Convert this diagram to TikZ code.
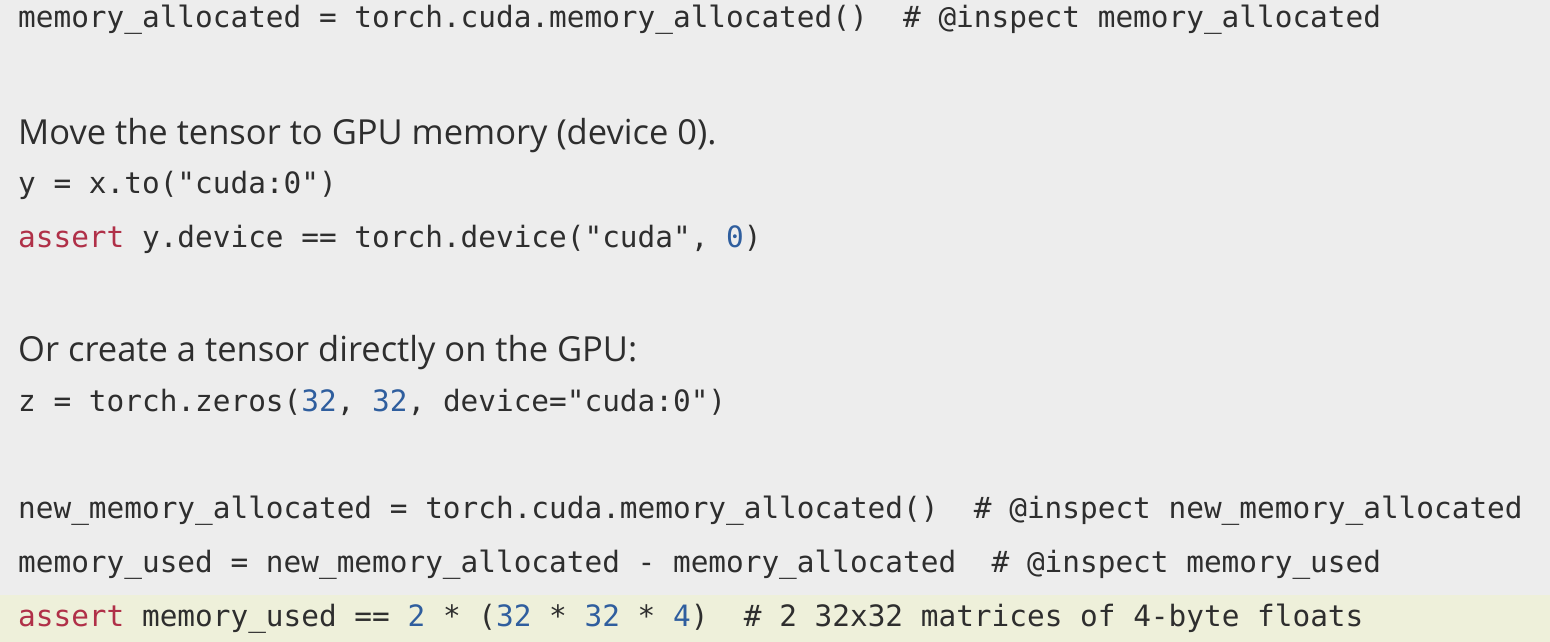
\documentclass[tikz,border=0pt]{standalone}
\usepackage{fontspec}
\setmainfont{Open Sans}
\setmonofont{DejaVu Sans Mono}
\definecolor{bg}{HTML}{EDEDED}
\definecolor{hl}{HTML}{EEF0DA}
\definecolor{txt}{HTML}{2E2E2E}
\definecolor{kw}{HTML}{B03048}
\definecolor{num}{HTML}{2F5E9E}
\newcommand{\kwd}[1]{{\color{kw}#1}}
\newcommand{\nm}[1]{{\color{num}#1}}
\tikzset{code/.style={anchor=base west,inner sep=0pt,text=txt,font=\ttfamily\fontsize{29.4}{35}\selectfont},
prose/.style={anchor=base west,inner sep=0pt,text=txt,font=\fontsize{34.5}{40}\selectfont}}
\begin{document}
\begin{tikzpicture}[x=1pt,y=-1pt]
\fill[bg] (0,0) rectangle (1550,642);
\fill[hl] (0,595) rectangle (1550,642);
\useasboundingbox (0,0) rectangle (1550,642);
\node[code] (l1) at (18,28) {memory\_allocated = torch.cuda.memory\_allocated()\ \ \# @inspect memory\_allocated};
\node[prose] (p1) at (18,144) {Move the tensor to GPU memory (device 0).};
\node[code] (l2) at (18,193) {y = x.to("cuda:0")};
\node[code] (l3) at (18,247) {\kwd{assert} y.device == torch.device("cuda", \nm{0})};
\node[prose] (p2) at (18,361) {Or create a tensor directly on the GPU:};
\node[code] (l4) at (18,411) {z = torch.zeros(\nm{32}, \nm{32}, device="cuda:0")};
\node[code] (l5) at (18,518) {new\_memory\_allocated = torch.cuda.memory\_allocated()\ \ \# @inspect new\_memory\_allocated};
\node[code] (l6) at (18,572) {memory\_used = new\_memory\_allocated - memory\_allocated\ \ \# @inspect memory\_used};
\node[code] (l7) at (18,626) {\kwd{assert} memory\_used == \nm{2} * (\nm{32} * \nm{32} * \nm{4})\ \ \# 2 32x32 matrices of 4-byte floats};
\end{tikzpicture}
\end{document}
